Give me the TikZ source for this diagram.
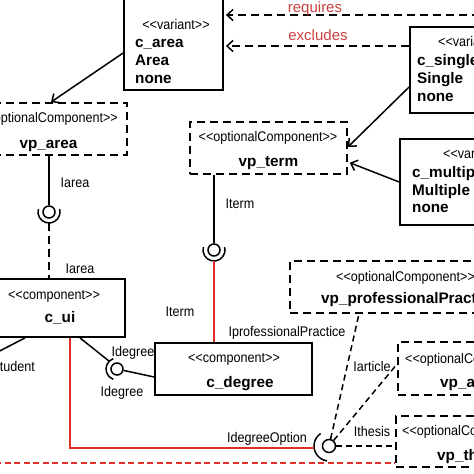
\documentclass[tikz,border=0pt]{standalone}
\usepackage{fontspec}
\setmainfont{Liberation Sans}
\newfontfamily\narrowsf{Liberation Sans}[FakeStretch=0.9]
\usetikzlibrary{arrows.meta,calc,positioning}
\definecolor{relred}{HTML}{CC4040}
\definecolor{wirered}{HTML}{E0302C}
\newcommand{\sttype}[1]{<\kern0pt<#1>\kern0pt>}

\begin{document}
\begin{tikzpicture}[x=1pt,y=1pt,>={Straight Barb[length=6pt,width=11pt]},
  box/.style={draw,line width=1.8pt,inner sep=0pt},
  optbox/.style={box,dash pattern=on 8pt off 5pt},
  stxt/.style={font=\narrowsf\fontsize{14}{16}\selectfont,inner sep=0pt,text height=10pt,text depth=0pt},
  rtxt/.style={font=\fontsize{15}{17}\selectfont,text=relred,inner sep=0pt,text height=10.7pt,text depth=0pt},
  btxt/.style={font=\fontsize{15.3}{18}\selectfont\bfseries,inner sep=0pt,text height=11pt,text depth=0pt},
  wire/.style={line width=1.5pt},
  dwire/.style={wire,dash pattern=on 8pt off 5pt},
  ball/.style={circle,draw,line width=1.5pt,inner sep=0pt,minimum size=#1}]
  \clip (0,0) rectangle (474,-474);
  % boxes
  \node[box,minimum width=99,minimum height=93] (carea) at (173.5,-43.5) {};
  \node[optbox,minimum width=147,minimum height=52] (vparea) at (53.5,-129) {};
  \node[box,minimum width=145,minimum height=58] (cui) at (52.5,-308) {};
  \node[optbox,minimum width=157,minimum height=52] (vpterm) at (268.5,-148) {};
  \node[box,minimum width=157,minimum height=52] (cdegree) at (233.5,-369) {};
  \node[box,minimum width=90,minimum height=86] (csingle) at (455,-70) {};
  \node[box,minimum width=100,minimum height=86] (cmultiple) at (450,-182) {};
  \node[optbox,minimum width=240,minimum height=52] (vpprof) at (410,-287) {};
  \node[optbox,minimum width=122,minimum height=53] (vparticle) at (459,-368.5) {};
  \node[optbox,minimum width=124,minimum height=51] (vpthesis) at (458,-441.5) {};
  % box texts
  \node[stxt] (careaS) at (176,-24) {\sttype{variant}};
  \node[btxt,anchor=west] (careaN) at (135,-42) {c\_area};
  \node[btxt,anchor=west] (careaA) at (135,-60) {Area};
  \node[btxt,anchor=west] (careaB) at (135,-78) {none};
  \node[stxt,anchor=east] (vpareaS) at (118,-117) {\sttype{optionalComponent}};
  \node[btxt] (vpareaN) at (48.5,-143) {vp\_area};
  \node[stxt] (cuiS) at (54,-294) {\sttype{component}};
  \node[btxt] (cuiN) at (60,-317) {c\_ui};
  \node[stxt] (vptermS) at (268,-136) {\sttype{optionalComponent}};
  \node[btxt] (vptermN) at (268.5,-161) {vp\_term};
  \node[stxt] (cdegreeS) at (234,-357) {\sttype{component}};
  \node[btxt] (cdegreeN) at (240,-382) {c\_degree};
  \node[stxt,anchor=west] (csingleS) at (438,-41) {\sttype{variant}};
  \node[btxt,anchor=west] (csingleN) at (417,-60) {c\_single};
  \node[btxt,anchor=west] (csingleA) at (417,-78) {Single};
  \node[btxt,anchor=west] (csingleB) at (417,-96) {none};
  \node[stxt,anchor=west] (cmultipleS) at (443,-153) {\sttype{variant}};
  \node[btxt,anchor=west] (cmultipleN) at (412,-172) {c\_multiple};
  \node[btxt,anchor=west] (cmultipleA) at (412,-190) {Multiple};
  \node[btxt,anchor=west] (cmultipleB) at (412,-207) {none};
  \node[stxt,anchor=west] (vpprofS) at (336,-276) {\sttype{optionalComponent}};
  \node[btxt,anchor=west] (vpprofN) at (321,-298) {vp\_professionalPractice};
  \node[stxt,anchor=west] (vparticleS) at (405,-358) {\sttype{optionalComponent}};
  \node[btxt,anchor=west] (vparticleN) at (440,-382) {vp\_article};
  \node[stxt,anchor=west] (vpthesisS) at (402,-430) {\sttype{optionalComponent}};
  \node[btxt,anchor=west] (vpthesisN) at (437,-455) {vp\_thesis};
  % variant relations
  \draw[wire,->] ([yshift=-9.5pt]carea.west) -- ([xshift=-2.5pt]vparea.north);
  \draw[wire,->] ([yshift=-17pt]csingle.west) -- ([yshift=1pt]vpterm.east);
  \draw[wire,->,shorten >=2pt] (cmultiple.west) -- ([yshift=-14pt]vpterm.east);
  \coordinate (reqR) at (480,-15);
  \draw[dwire,->,shorten >=2pt] (reqR) -- (reqR -| carea.east);
  \draw[dwire,->,shorten >=2pt] ([yshift=24pt]csingle.west) -- ([yshift=24pt]csingle.west -| carea.east);
  \node[rtxt] (req) at (315,-7) {requires};
  \node[rtxt] (excl) at (318,-35) {excludes};
  % interfaces
  \node[ball=12] (iarea) at (49,-212) {};
  \draw[wire] (vparea.south -| iarea) -- (iarea);
  \draw[wire] (iarea.center) ++(165:11) arc[start angle=165,end angle=375,radius=11];
  \coordinate (iareaS) at (49,-223);
  \draw[dwire] (iareaS) -- (iareaS |- cui.north);
  \node[stxt] (iareaL) at (75,-182) {Iarea};
  \node[stxt] (iareaR) at (80,-268) {Iarea};
  \node[ball=12] (iterm) at (214,-250) {};
  \draw[wire] (vpterm.south -| iterm) -- (iterm);
  \draw[wire] (iterm.center) ++(165:11) arc[start angle=165,end angle=375,radius=11];
  \coordinate (itermS) at (214,-261);
  \draw[wire,wirered] (itermS) -- (itermS |- cdegree.north);
  \node[stxt] (itermL) at (240,-203) {Iterm};
  \node[stxt] (itermR) at (180,-311) {Iterm};
  \node[stxt] (iprof) at (287,-331) {IprofessionalPractice};
  \node[ball=12] (idegree) at (117,-369) {};
  \draw[wire] (idegree.center) ++(110:11) arc[start angle=110,end angle=250,radius=11];
  \draw[wire] ([xshift=27.5pt]cui.south) -- ($(idegree.center)+(135:11)$);
  \draw[wire] (idegree) -- ([yshift=-8pt]cdegree.west);
  \node[stxt] (idegreeL) at (133,-351) {Idegree};
  \node[stxt] (idegreeR) at (122,-391) {Idegree};
  \coordinate (stud) at (-10,-356);
  \draw[wire] ([xshift=-27.5pt]cui.south) -- (stud);
  \node[stxt,anchor=east] (student) at (35,-366) {Student};
  % degree option
  \node[ball=13] (iopt) at (329,-446) {};
  \draw[wire] (iopt.center) ++(124:15) arc[start angle=124,end angle=262,radius=15];
  \coordinate (ioptS) at (314,-448);
  \draw[wire,wirered] ([xshift=17.5pt]cui.south) |- (ioptS);
  \draw[dwire,dash pattern=on 6pt off 4pt] (iopt) -- ([xshift=-51pt]vpprof.south);
  \draw[dwire,dash pattern=on 6pt off 4pt] (iopt) -- ([yshift=4.5pt]vparticle.west);
  \draw[dwire,dash pattern=on 6pt off 4pt] (iopt) -- (iopt -| vpthesis.west);
  \coordinate (redL) at (-5,-463);
  \draw[wire,wirered,dash pattern=on 6pt off 3.5pt] (redL) -- (redL -| vpthesis.west);
  \node[stxt] (ioptL) at (267,-437) {IdegreeOption};
  \node[stxt] (iarticle) at (372,-366) {Iarticle};
  \node[stxt] (ithesis) at (372,-431) {Ithesis};
\end{tikzpicture}
\end{document}
